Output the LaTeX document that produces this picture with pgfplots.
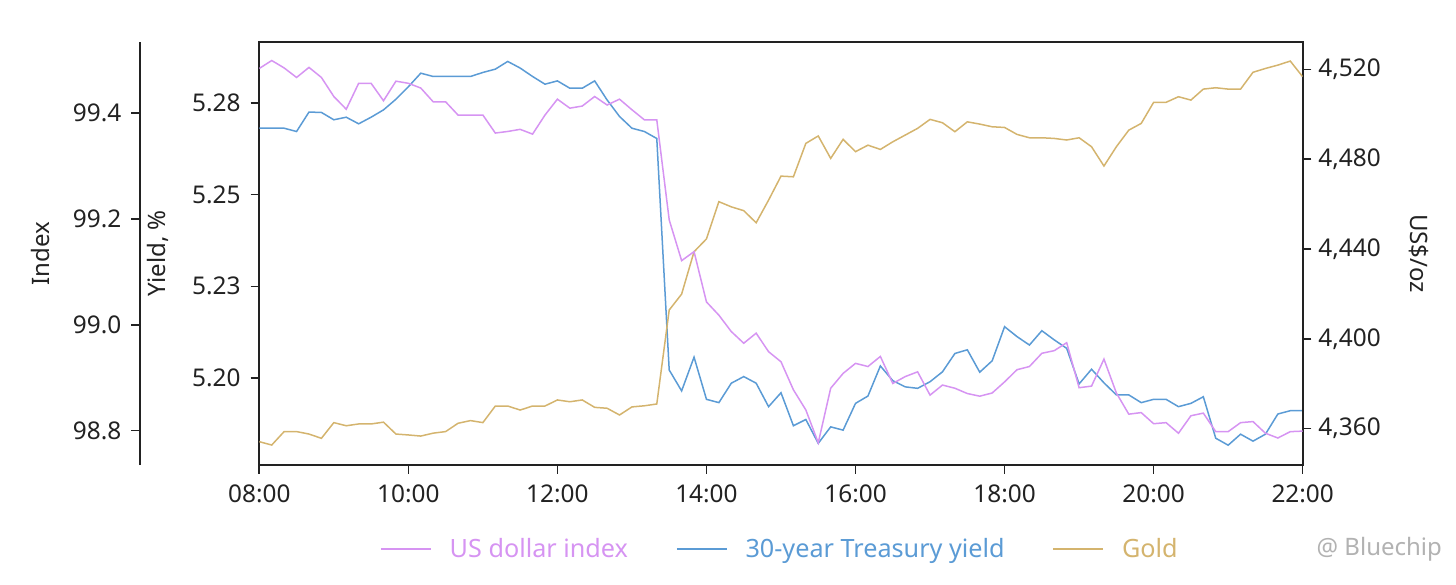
\documentclass[border=0pt]{standalone}
\usepackage{pgfplots}
\pgfplotsset{compat=1.18}
\usepackage{pgfplotstable}
\usepackage{fontspec}
\setmainfont{Noto Sans}
\definecolor{dxy}{RGB}{214,148,242}
\definecolor{tsy}{RGB}{91,155,213}
\definecolor{gld}{RGB}{212,180,110}
\definecolor{axc}{RGB}{34,34,34}

\pgfplotstableread{
t dxy yld gold
480 99.484 5.2681 4354.1
490 99.499 5.2681 4352.6
500 99.485 5.2681 4358.6
510 99.467 5.2672 4358.6
520 99.486 5.2725 4357.5
530 99.467 5.2724 4355.6
540 99.431 5.2704 4362.6
550 99.407 5.2711 4361.2
560 99.456 5.2693 4362.0
570 99.456 5.2711 4362.0
580 99.423 5.2731 4362.8
590 99.460 5.2760 4357.5
600 99.456 5.2794 4357.1
610 99.447 5.2831 4356.6
620 99.421 5.2822 4357.9
630 99.421 5.2822 4358.6
640 99.396 5.2822 4362.3
650 99.396 5.2822 4363.5
660 99.396 5.2833 4362.6
670 99.362 5.2842 4370.0
680 99.365 5.2863 4370.0
690 99.369 5.2845 4368.2
700 99.360 5.2822 4370.0
710 99.396 5.2801 4370.0
720 99.426 5.2810 4372.7
730 99.409 5.2790 4371.9
740 99.413 5.2790 4372.7
750 99.431 5.2810 4369.4
760 99.415 5.2758 4369.0
770 99.426 5.2713 4366.0
780 99.406 5.2681 4369.6
790 99.387 5.2672 4370.1
800 99.387 5.2653 4370.9
810 99.198 5.2022 4412.8
820 99.121 5.1965 4419.9
830 99.138 5.2057 4438.8
840 99.043 5.1942 4444.5
850 99.018 5.1933 4461.1
860 98.987 5.1986 4458.8
870 98.965 5.2004 4457.1
880 98.984 5.1986 4451.7
890 98.949 5.1922 4461.8
900 98.930 5.1960 4472.5
910 98.877 5.1870 4472.2
920 98.839 5.1887 4487.1
930 98.777 5.1822 4490.4
940 98.880 5.1867 4480.4
950 98.908 5.1858 4488.9
960 98.927 5.1931 4483.4
970 98.921 5.1951 4486.3
980 98.940 5.2033 4484.4
990 98.889 5.1993 4487.8
1000 98.902 5.1976 4490.8
1010 98.911 5.1972 4493.8
1020 98.867 5.1990 4497.8
1030 98.886 5.2017 4496.3
1040 98.880 5.2067 4492.3
1050 98.870 5.2077 4496.7
1060 98.865 5.2016 4495.7
1070 98.871 5.2047 4494.5
1080 98.892 5.2140 4494.2
1090 98.915 5.2113 4491.1
1100 98.921 5.2090 4489.6
1110 98.946 5.2129 4489.6
1120 98.951 5.2104 4489.3
1130 98.966 5.2081 4488.6
1140 98.881 5.1984 4489.6
1150 98.884 5.2024 4485.6
1160 98.935 5.1987 4477.0
1170 98.871 5.1954 4485.6
1180 98.831 5.1954 4493.0
1190 98.834 5.1933 4496.0
1200 98.813 5.1942 4505.4
1210 98.815 5.1942 4505.4
1220 98.795 5.1922 4507.9
1230 98.828 5.1931 4506.4
1240 98.833 5.1949 4511.3
1250 98.798 5.1836 4511.9
1260 98.798 5.1817 4511.3
1270 98.815 5.1847 4511.3
1280 98.817 5.1828 4518.8
1290 98.795 5.1847 4520.5
1300 98.786 5.1902 4522.0
1310 98.798 5.1911 4523.8
1320 98.799 5.1911 4516.8
}\data

\pgfplotsset{
  base/.style={
    scale only axis, width=521.7pt, height=211.5pt,
    xmin=480, xmax=1320,
    /pgf/number format/assume math mode=true,
    tick align=outside, major tick length=4.3pt,
    tick style={axc, line width=0.8pt},
    axis line style={axc, line width=0.9pt},
    tick label style={font=\fontsize{12.2}{14}\selectfont, text=axc},
    label style={font=\fontsize{12}{14}\selectfont, text=axc},
  },
}

\begin{document}
\begin{tikzpicture}
\useasboundingbox (-129.65pt,-59.5pt) rectangle (598.35pt,232.5pt);

% Index spine
\begin{axis}[base, at={(-59.65pt,0pt)}, anchor=south west,
  hide x axis, axis y line*=left,
  ymin=98.735, ymax=99.534,
  ytick={98.8,99.0,99.2,99.4}, yticklabels={98.8,99.0,99.2,99.4},
  yticklabel style={xshift=-1.5pt},
  ylabel={Index},
  ylabel style={at={(axis description cs:-0.0958,0.5)}, anchor=center}]
\end{axis}

% Yield (main) axis
\begin{axis}[base, at={(0pt,0pt)}, anchor=south west,
  tick pos=left,
  ymin=5.1763, ymax=5.2916,
  ytick={5.2,5.225,5.25,5.275}, yticklabels={5.20,5.23,5.25,5.28},
  yticklabel style={xshift=-1.5pt},
  xtick={480,600,720,840,960,1080,1200,1320},
  xticklabels={08:00,10:00,12:00,14:00,16:00,18:00,20:00,22:00},
  xticklabel style={yshift=-2pt},
  ylabel={Yield, \%},
  ylabel style={at={(axis description cs:-0.0971,0.5)}, anchor=center},
  legend style={at={(axis description cs:0.5,-0.199)}, anchor=center,
    draw=none, fill=none, legend columns=3,
    font=\fontsize{12.6}{14}\selectfont,
    /tikz/every even column/.append style={column sep=22pt}},
  legend image code/.code={\draw[#1] (0pt,0pt) -- (25pt,0pt); \path (32pt,0pt);}]
\addlegendimage{dxy, line width=0.75pt}
\addlegendentry{\textcolor{dxy}{US dollar index}}
\addplot[tsy, line width=0.75pt] table[x=t, y=yld] {\data};
\addlegendentry{\textcolor{tsy}{30-year Treasury yield}}
\addlegendimage{gld, line width=0.75pt}
\addlegendentry{\textcolor{gld}{Gold}}
\end{axis}

% Gold axis
\begin{axis}[base, at={(0pt,0pt)}, anchor=south west,
  hide x axis, axis y line*=right,
  ymin=4343.7, ymax=4532.3,
  ytick={4360,4400,4440,4480,4520},
  yticklabels={{4,360},{4,400},{4,440},{4,480},{4,520}},
  ylabel={US\$/oz},
  ylabel style={at={(axis description cs:1.1115,0.5)}, anchor=center, rotate=180}]
\addplot[gld, line width=0.75pt] table[x=t, y=gold] {\data};
\end{axis}

% US dollar index
\begin{axis}[base, at={(0pt,0pt)}, anchor=south west, hide axis,
  ymin=98.735, ymax=99.534]
\addplot[dxy, line width=0.75pt] table[x=t, y=dxy] {\data};
\end{axis}

\node[text=black!30, font=\fontsize{12}{14}\selectfont, anchor=center] at (560pt,-42pt) {@ Bluechip};
\end{tikzpicture}
\end{document}
